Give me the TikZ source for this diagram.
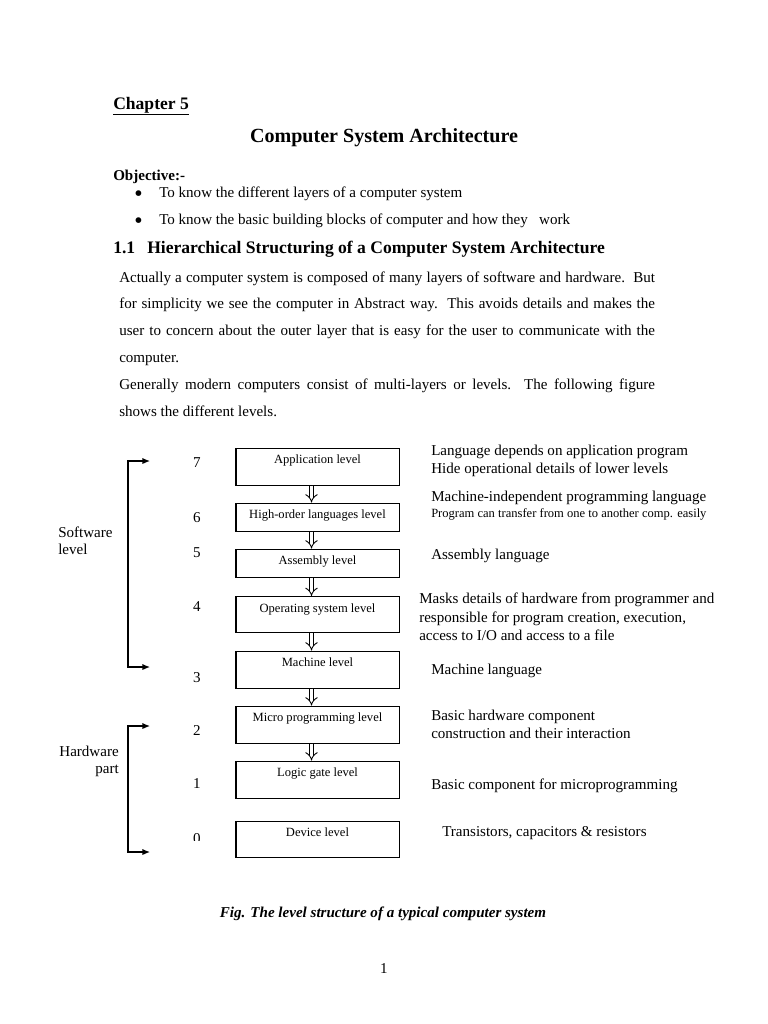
\documentclass[tikz,border=0pt]{standalone}
\usepackage{fontspec}
\setmainfont{Liberation Serif}
\usetikzlibrary{arrows.meta}
\usetikzlibrary{positioning}
\newlength{\pxu}
\setlength{\pxu}{0.797pt}
\tikzset{txt/.style = {anchor = base west, inner sep = 0, align = left,
                       font = \fontsize{12}{14.35}\selectfont}}
\tikzset{num/.style = {anchor = base, inner sep = 0, font = \fontsize{12}{14}\selectfont}}
\tikzset{lvlbox/.style = {draw, line width = 0.8pt, minimum width = 163\pxu, inner sep = 0}}
\tikzset{boxtext/.style = {anchor = north, inner sep = 6pt, font = \fontsize{10}{12}\selectfont}}
\tikzset{hollow/.style = {double, double distance = 3.5\pxu, line width = 0.7pt, -{Implies}}}
\tikzset{brk/.style = {line width = 1pt,
                       {Latex[length = 6pt, width = 5pt]}-{Latex[length = 6pt, width = 5pt]}}}

\begin{document}
\begin{tikzpicture}[x = 0.797pt, y = -0.797pt]
    \useasboundingbox [fill = white] (0, 0) rectangle (768, 1024);

    % page heading
    \node [txt, font = \fontsize{14}{16}\selectfont\bfseries] (chap) at (113, 109) {\underline{Chapter 5}};
    \node [num, font = \fontsize{16}{18}\selectfont\bfseries] (title) at (384, 142) {Computer System Architecture};
    \node [txt, font = \fontsize{12}{14}\selectfont\bfseries] (obj) at (113, 180) {Objective:-};
    \node [txt, font = \fontsize{19}{19}\selectfont] (bul1) at (134, 201) {•};
    \node [txt] (obj1) at (159, 197) {To know the different layers of a computer system};
    \node [txt, font = \fontsize{19}{19}\selectfont] (bul2) at (134, 228) {•};
    \node [txt] (obj2) at (159, 224) {To know the basic building blocks of computer and how they\ \ \ work};
    \node [txt, font = \fontsize{14}{16}\selectfont\bfseries] (secnum) at (113, 253) {1.1};
    \node [txt, font = \fontsize{14}{16}\selectfont\bfseries] (sec) at (147, 253) {Hierarchical Structuring of a Computer System Architecture};
    \node [txt, text width = 427pt, align = justify, font = \fontsize{12}{21.5}\selectfont] (para) at (119, 282)
        {Actually a computer system is composed of many layers of software and hardware.\ \ But
         for simplicity we see the computer in Abstract way.\ \ This avoids details and makes the
         user to concern about the outer layer that is easy for the user to communicate with the
         computer.\\
         Generally modern computers consist of multi-layers or levels.\ \ The following figure\linebreak
         shows the different levels.};

    % level boxes
    \node [lvlbox, minimum height = 37\pxu, label = {[boxtext]north:Application level}] (app) at (317.5, 466.5) {};
    \node [lvlbox, minimum height = 28\pxu, label = {[boxtext]north:High-order languages level}] (hol) at (317.5, 517) {};
    \node [lvlbox, minimum height = 28\pxu, label = {[boxtext]north:Assembly level}] (asm) at (317.5, 563) {};
    \node [lvlbox, minimum height = 36\pxu, label = {[boxtext]north:Operating system level}] (os) at (317.5, 614.5) {};
    \node [lvlbox, minimum height = 37\pxu, label = {[boxtext]north:Machine level}] (mach) at (317.5, 669.5) {};
    \node [lvlbox, minimum height = 37\pxu, label = {[boxtext]north:Micro programming level}] (micro) at (317.5, 724.5) {};
    \node [lvlbox, minimum height = 37\pxu, label = {[boxtext]north:Logic gate level}] (logic) at (317.5, 779.5) {};
    \node [lvlbox, minimum height = 36\pxu, label = {[boxtext]north:Device level}] (dev) at (317.5, 839) {};

    \draw [hollow] ([xshift = -6\pxu]app.south) -- ([xshift = -6\pxu]hol.north);
    \draw [hollow] ([xshift = -6\pxu]hol.south) -- ([xshift = -6\pxu]asm.north);
    \draw [hollow] ([xshift = -6\pxu]asm.south) -- ([xshift = -6\pxu]os.north);
    \draw [hollow] ([xshift = -6\pxu]os.south) -- ([xshift = -6\pxu]mach.north);
    \draw [hollow] ([xshift = -6\pxu]mach.south) -- ([xshift = -6\pxu]micro.north);
    \draw [hollow] ([xshift = -6\pxu]micro.south) -- ([xshift = -6\pxu]logic.north);

    % level numbers
    \node [num] (n7) at (197, 467) {7};
    \node [num] (n6) at (197, 522) {6};
    \node [num] (n5) at (197, 557) {5};
    \node [num] (n4) at (197, 611) {4};
    \node [num] (n3) at (197, 682) {3};
    \node [num] (n2) at (197, 735) {2};
    \node [num] (n1) at (197, 788) {1};
    \begin{scope}
        \clip (180, 820) rectangle (215, 840);
        \node [num] (n0) at (197, 843) {0};
    \end{scope}

    % software / hardware brackets
    \coordinate (swT) at (150, 461);
    \coordinate (swC) at (128, 667);
    \coordinate (swB) at (150, 667);
    \coordinate (hwT) at (150, 726);
    \coordinate (hwC) at (128, 852);
    \coordinate (hwB) at (150, 852);
    \draw [brk] (swT) -| (swC) -- (swB);
    \draw [brk] (hwT) -| (hwC) -- (hwB);
    \node [txt, font = \fontsize{12}{13.5}\selectfont] (sw) at (58, 554) {Software\\level};
    \node [txt, anchor = base east, align = right, font = \fontsize{12}{13.5}\selectfont] (hw) at (119, 773) {Hardware\\part};

    % level descriptions
    \node [txt] (d7) at (431, 473) {Language depends on application program\\Hide operational details of lower levels};
    \node [txt] (d6) at (431, 501) {Machine-independent programming language};
    \node [txt, font = \fontsize{10}{12}\selectfont] (d6b) at (431, 517) {Program can transfer from one to another comp. easily};
    \node [txt] (d5) at (431, 559) {Assembly language};
    \node [txt] (d4) at (419, 640) {Masks details of hardware from programmer and\\responsible for program creation, execution,\\access to I/O and access to a file};
    \node [txt] (d3) at (431, 674) {Machine language};
    \node [txt] (d2) at (431, 738) {Basic hardware component\\construction and their interaction};
    \node [txt] (d1) at (431, 789) {Basic component for microprogramming};
    \node [txt] (d0) at (442, 836) {Transistors, capacitors \& resistors};

    % caption and page number
    \node [num, font = \fontsize{12}{14}\selectfont\bfseries\itshape] (cap) at (383, 917) {Fig. The level structure of a typical computer system};
    \node [num] (page) at (384, 973) {1};
\end{tikzpicture}
\end{document}
